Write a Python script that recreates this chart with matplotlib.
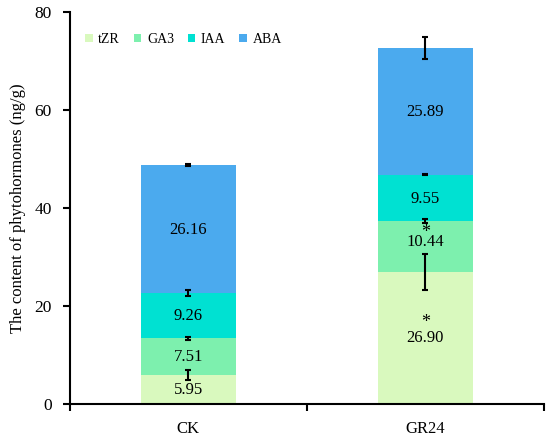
import matplotlib
matplotlib.use("Agg")
import matplotlib.pyplot as plt
import numpy as np

categories = ["CK", "GR24"]
series_names = ["tZR", "GA3", "IAA", "ABA"]
tZR = [5.95, 26.90]
GA3 = [7.51, 10.44]
IAA = [9.26, 9.55]
ABA = [26.16, 25.89]
tZR_err = [1.1, 3.7]
GA3_err = [0.3, 0.4]
IAA_err = [0.6, 0.2]
ABA_err = [0.2, 2.2]
tZR_sig = ["", "*"]
GA3_sig = ["", "*"]
IAA_sig = ["", ""]
ABA_sig = ["", ""]
yticks = [0, 20, 40, 60, 80]

colors = ["#D9F9BE", "#7DF0AE", "#00E1D2", "#4BAAEE"]

plt.rcParams['font.family'] = ['Liberation Serif', 'DejaVu Serif']

fig = plt.figure(figsize=(5.5, 4.38), dpi=100)
ax = fig.add_axes([0.127, 0.0776, 0.862, 0.894])

x = np.arange(len(categories))
width = 0.4
values = [tZR, GA3, IAA, ABA]
errs = [tZR_err, GA3_err, IAA_err, ABA_err]
sigs = [tZR_sig, GA3_sig, IAA_sig, ABA_sig]
bottom = np.zeros(len(categories))
for name, vals, err, sig, c in zip(series_names, values, errs, sigs, colors):
    vals = np.array(vals)
    ax.bar(x, vals, width, bottom=bottom, color=c, label=name, zorder=2)
    top = bottom + vals
    ax.errorbar(x, top, yerr=err, fmt='none', ecolor='black', elinewidth=1.5,
                capsize=2.5, capthick=1.5, zorder=3)
    for i in range(len(categories)):
        mid = bottom[i] + vals[i] / 2
        if sig[i]:
            if name == "GA3":
                ax.text(x[i], mid + 0.9, f"{vals[i]:.2f}", ha='center', va='center', fontsize=12, zorder=4)
                ax.text(x[i], mid + 2.9, sig[i], ha='center', va='center', fontsize=13, zorder=4)
            else:
                ax.text(x[i], mid + 0.0, f"{vals[i]:.2f}", ha='center', va='center', fontsize=12, zorder=4)
                ax.text(x[i], mid + 3.2, sig[i], ha='center', va='center', fontsize=13, zorder=4)
        else:
            ax.text(x[i], mid - 0.2, f"{vals[i]:.2f}", ha='center', va='center', fontsize=12, zorder=4)
    bottom = top

ax.set_xlim(-0.5, 1.5)
ax.set_ylim(0, 80)
ax.set_yticks(yticks)
ax.set_yticklabels([str(t) for t in yticks], fontsize=12.5)
ax.set_xticks(x)
ax.set_xticklabels(categories, fontsize=12)
ax.tick_params(axis='x', length=0, pad=12)
ax.tick_params(axis='y', length=5, width=1.5, direction='out', pad=8)
# category boundary ticks
ax.set_xticks([-0.5, 0.5, 1.5], minor=True)
ax.tick_params(axis='x', which='minor', length=5, width=1.5, direction='out')
for s in ['top', 'right']:
    ax.spines[s].set_visible(False)
for s in ['left', 'bottom']:
    ax.spines[s].set_linewidth(1.5)
ax.set_ylabel("The content of phytohormones (ng/g)", fontsize=12, labelpad=6)

leg = ax.legend(loc='upper left', bbox_to_anchor=(0.02, 0.962), ncol=4, frameon=False,
                fontsize=10, handlelength=0.55, handleheight=0.55, handletextpad=0.4,
                columnspacing=1.0, borderaxespad=0)

fig.savefig("out.png", dpi=100)
